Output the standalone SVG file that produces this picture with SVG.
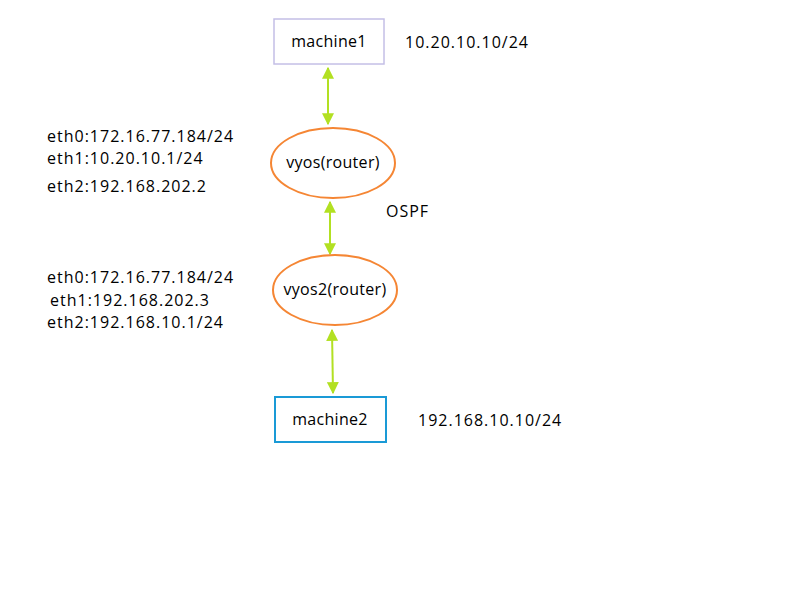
<svg xmlns="http://www.w3.org/2000/svg" width="800" height="600" viewBox="0 0 800 600">
<style>
text{font-family:"Open Sans","DejaVu Sans",sans-serif;font-size:16px;letter-spacing:1px;fill:#000}
.c{text-anchor:middle;letter-spacing:0.3px}
.e{fill:#fff;stroke:#f58634;stroke-width:2}
.l{stroke:#b2e022;stroke-width:2;fill:none;marker-start:url(#a);marker-end:url(#a)}
</style>
<defs><marker id="a" viewBox="0 0 10 10" refX="9" refY="5" markerWidth="6" markerHeight="6" orient="auto-start-reverse"><path d="M0,0L10,5L0,10z" fill="#b2e022"/></marker></defs>
<rect width="800" height="600" fill="#fff"/>
<g id="connectors">
<line class="l" x1="328" y1="68" x2="328" y2="124"/>
<line class="l" x1="330" y1="202" x2="330" y2="254"/>
<line class="l" x1="332" y1="330" x2="333" y2="393"/>
</g>
<g id="machine1"><rect x="274" y="19" width="110" height="45" fill="#fff" stroke="#c4bfe6" stroke-width="1.5"/><text class="c" x="329" y="47">machine1</text></g>
<g id="vyos"><ellipse class="e" cx="333" cy="163" rx="62" ry="35"/><text class="c" x="333" y="168">vyos(router)</text></g>
<g id="vyos2"><ellipse class="e" cx="335" cy="290" rx="62" ry="35"/><text class="c" x="335" y="295">vyos2(router)</text></g>
<g id="machine2"><rect x="275" y="397" width="111" height="45" fill="#fff" stroke="#1a9ad6" stroke-width="2"/><text class="c" x="330" y="425">machine2</text></g>
<text x="405" y="48">10.20.10.10/24</text>
<text x="47" y="142">eth0:172.16.77.184/24</text>
<text x="47" y="164">eth1:10.20.10.1/24</text>
<text x="47" y="192">eth2:192.168.202.2</text>
<text x="386" y="217">OSPF</text>
<text x="47" y="283">eth0:172.16.77.184/24</text>
<text x="50" y="306">eth1:192.168.202.3</text>
<text x="47" y="328">eth2:192.168.10.1/24</text>
<text x="418" y="426">192.168.10.10/24</text>
</svg>
